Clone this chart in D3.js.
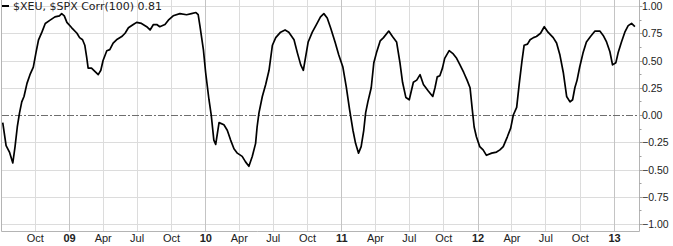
<!DOCTYPE html>
<html>
<head>
<meta charset="utf-8">
<script src="https://cdn.jsdelivr.net/npm/d3@7"></script>
<style>
  body { margin: 0; background: #fff; }
  .axis text { font-family: "Liberation Sans", Arial, sans-serif; fill: #222; }
  .legend text { font-family: "DejaVu Sans", Verdana, sans-serif; font-size: 11px; fill: #222; }
</style>
</head>
<body>
<svg id="chart" width="673" height="246"></svg>
<script>
var seriesName = "$XEU, $SPX Corr(100)";

var dates = [
  "2008-07-07","2008-07-16","2008-07-25","2008-08-03","2008-08-09","2008-08-15","2008-08-21","2008-08-27",
  "2008-09-02","2008-09-10","2008-09-18","2008-09-27","2008-10-04","2008-10-11","2008-10-20","2008-10-29",
  "2008-11-11","2008-11-24","2008-12-06","2008-12-12","2008-12-19","2008-12-26",
  "2009-01-08","2009-01-22","2009-01-29","2009-02-06","2009-02-12","2009-02-17","2009-02-21","2009-03-02",
  "2009-03-11","2009-03-20","2009-03-27","2009-04-02","2009-04-12","2009-04-20","2009-04-29","2009-05-08",
  "2009-05-22","2009-05-31","2009-06-09","2009-06-22","2009-07-01","2009-07-14","2009-07-28","2009-08-06",
  "2009-08-15","2009-08-24","2009-09-01","2009-09-15","2009-09-24","2009-10-07","2009-10-25","2009-11-12",
  "2009-11-25","2009-12-07","2009-12-13","2009-12-18","2009-12-27",
  "2010-01-02","2010-01-11","2010-01-17","2010-01-24","2010-01-29","2010-02-07","2010-02-20","2010-03-01",
  "2010-03-10","2010-03-19","2010-03-28","2010-04-10","2010-04-19","2010-04-28","2010-05-07","2010-05-16",
  "2010-05-20","2010-05-25","2010-06-03","2010-06-12","2010-06-21","2010-06-30","2010-07-09","2010-07-22",
  "2010-08-03","2010-08-13","2010-08-27","2010-09-05","2010-09-14","2010-09-21","2010-09-27","2010-10-04",
  "2010-10-15","2010-10-26","2010-11-06","2010-11-15","2010-11-24","2010-12-03","2010-12-15","2010-12-25",
  "2011-01-05","2011-01-14","2011-01-23","2011-02-01","2011-02-08","2011-02-16","2011-02-23","2011-03-02",
  "2011-03-07","2011-03-13","2011-03-22","2011-03-29","2011-04-05","2011-04-15","2011-04-24","2011-05-08",
  "2011-05-18","2011-05-29","2011-06-07","2011-06-14","2011-06-23","2011-07-02","2011-07-13","2011-07-22",
  "2011-07-31","2011-08-09","2011-08-22","2011-09-03","2011-09-09","2011-09-15","2011-09-22","2011-09-29",
  "2011-10-05","2011-10-17","2011-10-28","2011-11-06","2011-11-15","2011-11-25","2011-12-04","2011-12-12",
  "2011-12-18","2011-12-23","2011-12-29",
  "2012-01-07","2012-01-16","2012-01-25","2012-02-08","2012-02-21","2012-03-01","2012-03-10","2012-03-21",
  "2012-03-30","2012-04-06","2012-04-15","2012-04-22","2012-04-29","2012-05-05","2012-05-14","2012-05-21",
  "2012-05-30","2012-06-07","2012-06-18","2012-06-28","2012-07-08","2012-07-22","2012-07-31","2012-08-09",
  "2012-08-18","2012-08-27","2012-09-05","2012-09-12","2012-09-18","2012-09-24","2012-10-01","2012-10-10",
  "2012-10-19","2012-10-30","2012-11-11","2012-11-24","2012-12-03","2012-12-12","2012-12-21","2012-12-28",
  "2013-01-06","2013-01-12","2013-01-21","2013-01-30","2013-02-08","2013-02-17","2013-02-26"
];

var corr = [
  -0.07,-0.28,-0.34,-0.44,-0.29,-0.11,0.02,0.12,
  0.17,0.29,0.37,0.44,0.57,0.69,0.76,0.84,
  0.87,0.90,0.91,0.93,0.91,0.85,
  0.80,0.75,0.71,0.69,0.64,0.53,0.43,0.43,
  0.40,0.37,0.41,0.50,0.59,0.60,0.66,0.69,
  0.72,0.75,0.80,0.83,0.85,0.84,0.81,0.78,
  0.83,0.83,0.81,0.83,0.87,0.91,0.93,0.92,
  0.93,0.94,0.92,0.81,0.60,
  0.39,0.14,0.00,-0.23,-0.27,-0.07,-0.09,-0.14,
  -0.23,-0.31,-0.35,-0.38,-0.43,-0.47,-0.38,-0.26,
  -0.11,0.02,0.17,0.28,0.41,0.64,0.71,0.76,
  0.78,0.76,0.69,0.57,0.46,0.41,0.53,0.67,
  0.76,0.83,0.90,0.93,0.89,0.80,0.67,0.55,
  0.44,0.26,0.05,-0.14,-0.26,-0.35,-0.29,-0.14,
  0.02,0.12,0.25,0.48,0.57,0.68,0.71,0.77,
  0.72,0.67,0.48,0.30,0.16,0.14,0.30,0.32,
  0.37,0.28,0.22,0.17,0.25,0.35,0.36,0.43,
  0.52,0.59,0.56,0.52,0.46,0.39,0.32,0.25,
  0.05,-0.11,-0.20,
  -0.29,-0.32,-0.37,-0.35,-0.34,-0.32,-0.29,-0.20,
  -0.12,0.00,0.07,0.29,0.49,0.64,0.65,0.69,
  0.71,0.72,0.75,0.81,0.76,0.71,0.66,0.55,
  0.39,0.17,0.12,0.14,0.25,0.32,0.44,0.57,
  0.67,0.72,0.77,0.77,0.73,0.67,0.58,0.46,
  0.48,0.57,0.67,0.76,0.82,0.84,0.81
];

var yTicks = [1, 0.75, 0.5, 0.25, 0, -0.25, -0.5, -0.75, -1];

var xTicks = [
  "2008-10-01","2009-01-01","2009-04-01","2009-07-01","2009-10-01",
  "2010-01-01","2010-04-01","2010-07-01","2010-10-01",
  "2011-01-01","2011-04-01","2011-07-01","2011-10-01",
  "2012-01-01","2012-04-01","2012-07-01","2012-10-01","2013-01-01"
];

var parse = d3.timeParse("%Y-%m-%d");
var data = dates.map(function(d, i) { return {date: parse(d), value: corr[i]}; });

var svg = d3.select("#chart");
var left = 2, right = 639, plotBottom = 231;

var x = d3.scaleTime()
    .domain([parse("2008-07-05"), parse("2013-03-09")])
    .range([left, right]);

var y = d3.scaleLinear()
    .domain([-1, 1])
    .range([224, 6]);

var crisp = function(v) { return Math.round(v) + 0.5; };

// horizontal grid
svg.append("g").selectAll("line")
  .data(yTicks)
  .enter().append("line")
    .attr("x1", left).attr("x2", right)
    .attr("y1", function(d) { return crisp(y(d)); })
    .attr("y2", function(d) { return crisp(y(d)); })
    .style("stroke", function(d) { return d === 0 ? "none" : "#dcdcdc"; });

// vertical grid, years darker
svg.append("g").selectAll("line")
  .data(xTicks.map(parse))
  .enter().append("line")
    .attr("x1", function(d) { return crisp(x(d)); })
    .attr("x2", function(d) { return crisp(x(d)); })
    .attr("y1", 0).attr("y2", plotBottom)
    .style("stroke", function(d) { return d.getMonth() === 0 ? "#c4c4c4" : "#dcdcdc"; });

// zero line
svg.append("line")
    .attr("x1", left).attr("x2", right)
    .attr("y1", crisp(y(0))).attr("y2", crisp(y(0)))
    .style("stroke", "#6e6e6e")
    .style("stroke-dasharray", "7,2,2,2");

// frame
svg.append("path")
    .attr("d", "M" + (left - 0.5) + ",0V" + (plotBottom + 0.5) + "H" + (right + 0.5) + "V0")
    .style("fill", "none")
    .style("stroke", "#b4b4b4");

// right axis
var yAxis = svg.append("g").attr("class", "axis");
var minor = d3.range(-1, 1.01, 0.125);
yAxis.selectAll("line")
  .data(minor)
  .enter().append("line")
    .attr("x1", right + 0.5)
    .attr("x2", function(d, i) { return right + (i % 2 === 0 ? 3.5 : 2.5); })
    .attr("y1", function(d) { return crisp(y(d)); })
    .attr("y2", function(d) { return crisp(y(d)); })
    .style("stroke", "#a0a0a0");
yAxis.selectAll("text")
  .data(yTicks)
  .enter().append("text")
    .attr("x", right + 3)
    .attr("y", function(d) { return y(d) + 4; })
    .style("font-size", "10.5px")
    .text(d3.format(".2f"));

// bottom axis
var fmtMonth = d3.timeFormat("%b"), fmtYear = d3.timeFormat("%y");
svg.append("g").attr("class", "axis").selectAll("text")
  .data(xTicks.map(parse))
  .enter().append("text")
    .attr("x", function(d) { return x(d) + 0.5; })
    .attr("y", 242)
    .attr("text-anchor", "middle")
    .style("font-size", "11px")
    .style("font-weight", function(d) { return d.getMonth() === 0 ? "bold" : null; })
    .text(function(d) { return d.getMonth() === 0 ? fmtYear(d) : fmtMonth(d); });

// series
var line = d3.line()
    .x(function(d) { return x(d.date); })
    .y(function(d) { return y(d.value); });

svg.append("path")
    .datum(data)
    .attr("d", line)
    .style("fill", "none")
    .style("stroke", "#000")
    .style("stroke-width", 1.7)
    .style("stroke-linejoin", "round");

// legend
var legend = svg.append("g").attr("class", "legend");
legend.append("rect")
    .attr("x", 2).attr("y", 5).attr("width", 7).attr("height", 2)
    .style("fill", "#000");
legend.append("text")
    .attr("x", 13).attr("y", 10)
    .text(seriesName + " " + d3.format(".2f")(corr[corr.length - 1]));
</script>
</body>
</html>
